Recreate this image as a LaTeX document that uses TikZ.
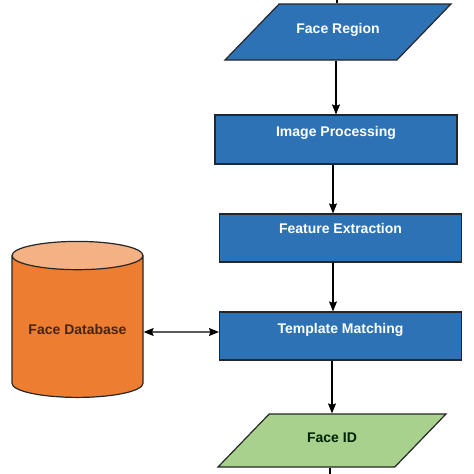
\documentclass[tikz,border=0pt]{standalone}
\usepackage{fontspec}
\setmainfont{Liberation Sans}
\usepackage{tikz}
\usetikzlibrary{arrows.meta,shapes.geometric}
\definecolor{boxblue}{RGB}{46,114,182}
\definecolor{dbbody}{RGB}{237,125,49}
\definecolor{dbtop}{RGB}{244,177,131}
\definecolor{idgreen}{RGB}{169,209,142}
\tikzstyle{link}=[line width=1.2pt, black]
\tikzstyle{arr}=[link, -{Stealth[length=10pt, width=8pt, inset=1.5pt]}]
\tikzstyle{both}=[link, {Stealth[length=10pt, width=8pt, inset=1.5pt]}-{Stealth[length=10pt, width=8pt, inset=1.5pt]}]
\tikzstyle{step1}=[rectangle, draw=black!85, line width=1.2pt, fill=boxblue, text=white, font=\bfseries\fontsize{14}{16}\selectfont, minimum width=242pt, inner sep=0pt, text height=21pt, text depth=27pt]
\tikzstyle{io}=[trapezium, trapezium stretches body, trapezium left angle=46, trapezium right angle=134, draw=black!85, line width=1.2pt, font=\bfseries\fontsize{14}{16}\selectfont, inner ysep=0pt]
\begin{document}
\begin{tikzpicture}[x=1pt, y=-1pt]
        \useasboundingbox (0,0) rectangle (474,474);
        \coordinate (top) at (337,0);
        \coordinate (bot) at (330,474);
        \coordinate (mid) at (333,0);
        \node(fr) [io, fill=boxblue, text=white, minimum width=226pt, text height=29pt, text depth=27pt] at (338,32){Face Region};
        \node(ip) [step1, text height=21pt, text depth=28pt] at (336,139.5){Image Processing};
        \node(fe) [step1, text height=19pt, text depth=29pt] at (340.5,238){Feature Extraction};
        \node(tm) [step1] at (340.5,336){Template Matching};
        \node(fid) [io, fill=idgreen, text=black!80!green!60!black, minimum width=228pt, text height=28pt, text depth=25pt] at (332,440.5){Face ID};
        \node(db) [cylinder, shape border rotate=90, aspect=0.27, draw=black!85, line width=1.2pt, cylinder uses custom fill, cylinder body fill=dbbody, cylinder end fill=dbtop, minimum width=131pt, minimum height=156pt, text=dbbody!30!black, font=\bfseries\fontsize{14}{16}\selectfont] at (77.5,329){Face Database};
        \draw[link] (top) -- (fr.north -| top);
        \draw[arr] (fr.south -| ip.north) -- (ip.north);
        \draw[arr] (ip.south -| mid) -- (fe.north -| mid);
        \draw[arr] (fe.south -| mid) -- (tm.north -| mid);
        \draw[arr] (tm.south -| fid.north) -- (fid.north);
        \draw[link] (fid.south -| bot) -- (bot);
        \draw[both] ([yshift=-3pt]db.east) -- ([yshift=4pt]tm.west);
     \end{tikzpicture}
\end{document}
